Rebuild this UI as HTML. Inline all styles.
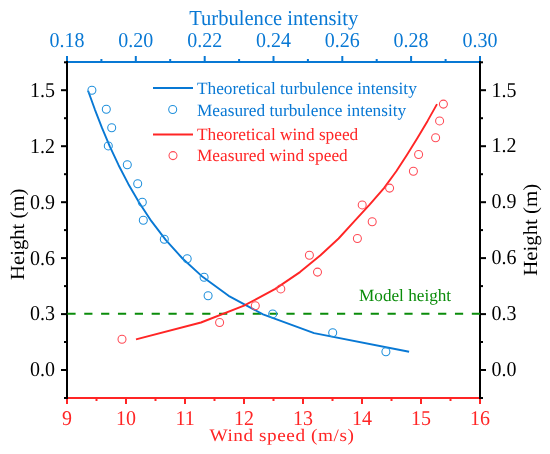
<!DOCTYPE html>
<html><head><meta charset="utf-8"><style>
html,body{margin:0;padding:0;background:#fff;width:550px;height:454px;overflow:hidden}
svg{display:block;will-change:transform}
text{font-family:"Liberation Serif", serif;text-rendering:geometricPrecision}
</style></head><body>
<svg width="550" height="454" viewBox="0 0 550 454">
<rect width="550" height="454" fill="#fff"/>

<text transform="translate(273.7,24.9) scale(1,1.03)" font-size="20.6" fill="#0878D4" text-anchor="middle">Turbulence intensity</text>
<text transform="translate(67.0,46.5) scale(1,1.06)" font-size="20" fill="#0878D4" text-anchor="middle">0.18</text>
<text transform="translate(135.8,46.5) scale(1,1.06)" font-size="20" fill="#0878D4" text-anchor="middle">0.20</text>
<text transform="translate(204.7,46.5) scale(1,1.06)" font-size="20" fill="#0878D4" text-anchor="middle">0.22</text>
<text transform="translate(273.5,46.5) scale(1,1.06)" font-size="20" fill="#0878D4" text-anchor="middle">0.24</text>
<text transform="translate(342.3,46.5) scale(1,1.06)" font-size="20" fill="#0878D4" text-anchor="middle">0.26</text>
<text transform="translate(411.1,46.5) scale(1,1.06)" font-size="20" fill="#0878D4" text-anchor="middle">0.28</text>
<text transform="translate(480.0,46.5) scale(1,1.06)" font-size="20" fill="#0878D4" text-anchor="middle">0.30</text>
<text transform="translate(67.0,424.8) scale(1,1.05)" font-size="20" fill="#FF2525" text-anchor="middle">9</text>
<text transform="translate(126.0,424.8) scale(1,1.05)" font-size="20" fill="#FF2525" text-anchor="middle">10</text>
<text transform="translate(185.0,424.8) scale(1,1.05)" font-size="20" fill="#FF2525" text-anchor="middle">11</text>
<text transform="translate(244.0,424.8) scale(1,1.05)" font-size="20" fill="#FF2525" text-anchor="middle">12</text>
<text transform="translate(303.0,424.8) scale(1,1.05)" font-size="20" fill="#FF2525" text-anchor="middle">13</text>
<text transform="translate(362.0,424.8) scale(1,1.05)" font-size="20" fill="#FF2525" text-anchor="middle">14</text>
<text transform="translate(421.0,424.8) scale(1,1.05)" font-size="20" fill="#FF2525" text-anchor="middle">15</text>
<text transform="translate(480.0,424.8) scale(1,1.05)" font-size="20" fill="#FF2525" text-anchor="middle">16</text>
<text transform="translate(209.5,441) scale(1.1,1)" font-size="17.5" letter-spacing="0.5" fill="#FF2525">Wind speed (m/s)</text>
<text transform="translate(55,376.4) scale(1,1.06)" font-size="20" fill="#000" text-anchor="end">0.0</text>
<text transform="translate(491.5,376.2) scale(1,1.06)" font-size="20" fill="#000" text-anchor="start">0.0</text>
<text transform="translate(55,320.4) scale(1,1.06)" font-size="20" fill="#000" text-anchor="end">0.3</text>
<text transform="translate(491.5,320.2) scale(1,1.06)" font-size="20" fill="#000" text-anchor="start">0.3</text>
<text transform="translate(55,264.5) scale(1,1.06)" font-size="20" fill="#000" text-anchor="end">0.6</text>
<text transform="translate(491.5,264.3) scale(1,1.06)" font-size="20" fill="#000" text-anchor="start">0.6</text>
<text transform="translate(55,208.6) scale(1,1.06)" font-size="20" fill="#000" text-anchor="end">0.9</text>
<text transform="translate(491.5,208.3) scale(1,1.06)" font-size="20" fill="#000" text-anchor="start">0.9</text>
<text transform="translate(55,152.6) scale(1,1.06)" font-size="20" fill="#000" text-anchor="end">1.2</text>
<text transform="translate(491.5,152.4) scale(1,1.06)" font-size="20" fill="#000" text-anchor="start">1.2</text>
<text transform="translate(55,96.7) scale(1,1.06)" font-size="20" fill="#000" text-anchor="end">1.5</text>
<text transform="translate(491.5,96.5) scale(1,1.06)" font-size="20" fill="#000" text-anchor="start">1.5</text>
<text transform="translate(24.2,234.3) rotate(-90) scale(1.035,1)" font-size="20" fill="#000" text-anchor="middle">Height (m)</text>
<text transform="translate(536.6,229.8) rotate(-90) scale(1.04,1)" font-size="20" fill="#000" text-anchor="middle">Height (m)</text>
<line x1="67.0" y1="62" x2="67.0" y2="56" stroke="#0878D4" stroke-width="2"/>
<line x1="101.4" y1="62" x2="101.4" y2="59" stroke="#0878D4" stroke-width="2"/>
<line x1="135.8" y1="62" x2="135.8" y2="56" stroke="#0878D4" stroke-width="2"/>
<line x1="170.2" y1="62" x2="170.2" y2="59" stroke="#0878D4" stroke-width="2"/>
<line x1="204.7" y1="62" x2="204.7" y2="56" stroke="#0878D4" stroke-width="2"/>
<line x1="239.1" y1="62" x2="239.1" y2="59" stroke="#0878D4" stroke-width="2"/>
<line x1="273.5" y1="62" x2="273.5" y2="56" stroke="#0878D4" stroke-width="2"/>
<line x1="307.9" y1="62" x2="307.9" y2="59" stroke="#0878D4" stroke-width="2"/>
<line x1="342.3" y1="62" x2="342.3" y2="56" stroke="#0878D4" stroke-width="2"/>
<line x1="376.7" y1="62" x2="376.7" y2="59" stroke="#0878D4" stroke-width="2"/>
<line x1="411.1" y1="62" x2="411.1" y2="56" stroke="#0878D4" stroke-width="2"/>
<line x1="445.6" y1="62" x2="445.6" y2="59" stroke="#0878D4" stroke-width="2"/>
<line x1="480.0" y1="62" x2="480.0" y2="56" stroke="#0878D4" stroke-width="2"/>
<line x1="67.0" y1="398" x2="67.0" y2="404" stroke="#FF2525" stroke-width="2"/>
<line x1="96.5" y1="398" x2="96.5" y2="401" stroke="#FF2525" stroke-width="2"/>
<line x1="126.0" y1="398" x2="126.0" y2="404" stroke="#FF2525" stroke-width="2"/>
<line x1="155.5" y1="398" x2="155.5" y2="401" stroke="#FF2525" stroke-width="2"/>
<line x1="185.0" y1="398" x2="185.0" y2="404" stroke="#FF2525" stroke-width="2"/>
<line x1="214.5" y1="398" x2="214.5" y2="401" stroke="#FF2525" stroke-width="2"/>
<line x1="244.0" y1="398" x2="244.0" y2="404" stroke="#FF2525" stroke-width="2"/>
<line x1="273.5" y1="398" x2="273.5" y2="401" stroke="#FF2525" stroke-width="2"/>
<line x1="303.0" y1="398" x2="303.0" y2="404" stroke="#FF2525" stroke-width="2"/>
<line x1="332.5" y1="398" x2="332.5" y2="401" stroke="#FF2525" stroke-width="2"/>
<line x1="362.0" y1="398" x2="362.0" y2="404" stroke="#FF2525" stroke-width="2"/>
<line x1="391.5" y1="398" x2="391.5" y2="401" stroke="#FF2525" stroke-width="2"/>
<line x1="421.0" y1="398" x2="421.0" y2="404" stroke="#FF2525" stroke-width="2"/>
<line x1="450.5" y1="398" x2="450.5" y2="401" stroke="#FF2525" stroke-width="2"/>
<line x1="480.0" y1="398" x2="480.0" y2="404" stroke="#FF2525" stroke-width="2"/>
<line x1="67" y1="398.0" x2="64" y2="398.0" stroke="#000" stroke-width="2"/>
<line x1="480" y1="398.0" x2="483" y2="398.0" stroke="#000" stroke-width="2"/>
<line x1="67" y1="370.0" x2="61" y2="370.0" stroke="#000" stroke-width="2"/>
<line x1="480" y1="370.0" x2="486" y2="370.0" stroke="#000" stroke-width="2"/>
<line x1="67" y1="342.0" x2="64" y2="342.0" stroke="#000" stroke-width="2"/>
<line x1="480" y1="342.0" x2="483" y2="342.0" stroke="#000" stroke-width="2"/>
<line x1="67" y1="314.1" x2="61" y2="314.1" stroke="#000" stroke-width="2"/>
<line x1="480" y1="314.1" x2="486" y2="314.1" stroke="#000" stroke-width="2"/>
<line x1="67" y1="286.1" x2="64" y2="286.1" stroke="#000" stroke-width="2"/>
<line x1="480" y1="286.1" x2="483" y2="286.1" stroke="#000" stroke-width="2"/>
<line x1="67" y1="258.1" x2="61" y2="258.1" stroke="#000" stroke-width="2"/>
<line x1="480" y1="258.1" x2="486" y2="258.1" stroke="#000" stroke-width="2"/>
<line x1="67" y1="230.1" x2="64" y2="230.1" stroke="#000" stroke-width="2"/>
<line x1="480" y1="230.1" x2="483" y2="230.1" stroke="#000" stroke-width="2"/>
<line x1="67" y1="202.2" x2="61" y2="202.2" stroke="#000" stroke-width="2"/>
<line x1="480" y1="202.2" x2="486" y2="202.2" stroke="#000" stroke-width="2"/>
<line x1="67" y1="174.2" x2="64" y2="174.2" stroke="#000" stroke-width="2"/>
<line x1="480" y1="174.2" x2="483" y2="174.2" stroke="#000" stroke-width="2"/>
<line x1="67" y1="146.2" x2="61" y2="146.2" stroke="#000" stroke-width="2"/>
<line x1="480" y1="146.2" x2="486" y2="146.2" stroke="#000" stroke-width="2"/>
<line x1="67" y1="118.2" x2="64" y2="118.2" stroke="#000" stroke-width="2"/>
<line x1="480" y1="118.2" x2="483" y2="118.2" stroke="#000" stroke-width="2"/>
<line x1="67" y1="90.2" x2="61" y2="90.2" stroke="#000" stroke-width="2"/>
<line x1="480" y1="90.2" x2="486" y2="90.2" stroke="#000" stroke-width="2"/>
<line x1="67" y1="62.3" x2="64" y2="62.3" stroke="#000" stroke-width="2"/>
<line x1="480" y1="62.3" x2="483" y2="62.3" stroke="#000" stroke-width="2"/>
<line x1="66" y1="62" x2="481" y2="62" stroke="#0878D4" stroke-width="2"/>
<line x1="66" y1="398" x2="481" y2="398" stroke="#FF2525" stroke-width="2"/>
<line x1="67" y1="61" x2="67" y2="399" stroke="#000" stroke-width="2"/>
<line x1="480" y1="61" x2="480" y2="399" stroke="#000" stroke-width="2"/>
<line x1="67" y1="313.8" x2="480" y2="313.8" stroke="#0A8C0A" stroke-width="2" stroke-dasharray="8.2 8.65" stroke-dashoffset="-0.4" stroke-dashoffset="0"/>
<text x="359" y="301" font-size="17.2" fill="#0A8C0A">Model height</text>
<polyline points="409.1,351.8 314.1,333.1 263.0,314.4 228.6,295.8 202.9,277.1 182.5,258.5 165.7,239.9 151.4,221.2 139.1,202.6 128.3,183.9 118.6,165.2 109.9,146.6 102.0,127.9 94.8,109.3 88.1,90.7" fill="none" stroke="#0878D4" stroke-width="1.9" stroke-linejoin="round"/>
<polyline points="136.0,339.3 201.0,322.5 244.0,305.7 275.3,288.9 300.0,272.1 320.5,255.3 338.6,238.5 354.0,221.7 369.4,204.9 384.0,188.1 396.3,171.3 407.2,154.5 417.6,137.7 427.6,120.9 437.0,104.1" fill="none" stroke="#FF2525" stroke-width="1.9" stroke-linejoin="round"/>
<circle cx="91.9" cy="90.3" r="4.0" fill="none" stroke="#2090DC" stroke-width="1.05"/>
<circle cx="106.3" cy="109.3" r="4.0" fill="none" stroke="#2090DC" stroke-width="1.05"/>
<circle cx="111.7" cy="127.7" r="4.0" fill="none" stroke="#2090DC" stroke-width="1.05"/>
<circle cx="108.3" cy="145.9" r="4.0" fill="none" stroke="#2090DC" stroke-width="1.05"/>
<circle cx="127.3" cy="164.8" r="4.0" fill="none" stroke="#2090DC" stroke-width="1.05"/>
<circle cx="137.7" cy="183.7" r="4.0" fill="none" stroke="#2090DC" stroke-width="1.05"/>
<circle cx="142.3" cy="202.3" r="4.0" fill="none" stroke="#2090DC" stroke-width="1.05"/>
<circle cx="143.3" cy="220.3" r="4.0" fill="none" stroke="#2090DC" stroke-width="1.05"/>
<circle cx="164.3" cy="239.3" r="4.0" fill="none" stroke="#2090DC" stroke-width="1.05"/>
<circle cx="187.2" cy="258.7" r="4.0" fill="none" stroke="#2090DC" stroke-width="1.05"/>
<circle cx="204.1" cy="277.3" r="4.0" fill="none" stroke="#2090DC" stroke-width="1.05"/>
<circle cx="208.1" cy="295.8" r="4.0" fill="none" stroke="#2090DC" stroke-width="1.05"/>
<circle cx="272.7" cy="313.9" r="4.0" fill="none" stroke="#2090DC" stroke-width="1.05"/>
<circle cx="332.7" cy="332.7" r="4.0" fill="none" stroke="#2090DC" stroke-width="1.05"/>
<circle cx="385.9" cy="351.7" r="4.0" fill="none" stroke="#2090DC" stroke-width="1.05"/>
<circle cx="122" cy="339.3" r="4.0" fill="none" stroke="#FF4A55" stroke-width="1.05"/>
<circle cx="219.6" cy="322.5" r="4.0" fill="none" stroke="#FF4A55" stroke-width="1.05"/>
<circle cx="255.3" cy="305.7" r="4.0" fill="none" stroke="#FF4A55" stroke-width="1.05"/>
<circle cx="280.8" cy="288.9" r="4.0" fill="none" stroke="#FF4A55" stroke-width="1.05"/>
<circle cx="317.5" cy="272.1" r="4.0" fill="none" stroke="#FF4A55" stroke-width="1.05"/>
<circle cx="309.4" cy="255.3" r="4.0" fill="none" stroke="#FF4A55" stroke-width="1.05"/>
<circle cx="357.4" cy="238.5" r="4.0" fill="none" stroke="#FF4A55" stroke-width="1.05"/>
<circle cx="372.2" cy="221.7" r="4.0" fill="none" stroke="#FF4A55" stroke-width="1.05"/>
<circle cx="362.2" cy="204.9" r="4.0" fill="none" stroke="#FF4A55" stroke-width="1.05"/>
<circle cx="389.6" cy="188.1" r="4.0" fill="none" stroke="#FF4A55" stroke-width="1.05"/>
<circle cx="413.4" cy="171.3" r="4.0" fill="none" stroke="#FF4A55" stroke-width="1.05"/>
<circle cx="418.6" cy="154.5" r="4.0" fill="none" stroke="#FF4A55" stroke-width="1.05"/>
<circle cx="435.6" cy="137.7" r="4.0" fill="none" stroke="#FF4A55" stroke-width="1.05"/>
<circle cx="439.6" cy="120.9" r="4.0" fill="none" stroke="#FF4A55" stroke-width="1.05"/>
<circle cx="443.4" cy="104.1" r="4.0" fill="none" stroke="#FF4A55" stroke-width="1.05"/>
<line x1="153" y1="88" x2="193" y2="88" stroke="#0878D4" stroke-width="2"/>
<circle cx="172.7" cy="109.5" r="4.0" fill="none" stroke="#2090DC" stroke-width="1.05"/>
<line x1="153" y1="134.4" x2="193" y2="134.4" stroke="#FF2525" stroke-width="2"/>
<circle cx="173" cy="155.6" r="4.0" fill="none" stroke="#FF4A55" stroke-width="1.05"/>
<text x="197" y="94" font-size="17.3" fill="#0878D4">Theoretical turbulence intensity</text>
<text x="197" y="116.0" font-size="17.3" fill="#0878D4">Measured turbulence intensity</text>
<text x="197" y="140.0" font-size="17.3" fill="#FF2525">Theoretical wind speed</text>
<text x="197" y="161.2" font-size="17.3" fill="#FF2525">Measured wind speed</text>
</svg></body></html>
